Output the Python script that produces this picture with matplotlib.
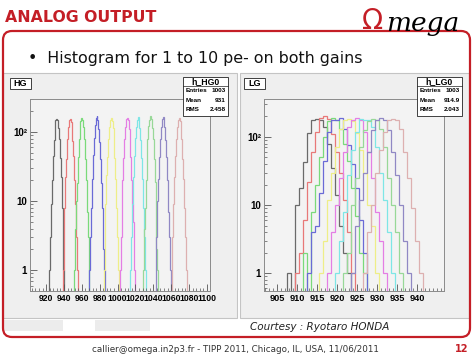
import matplotlib
matplotlib.use('Agg')
import matplotlib.pyplot as plt
from matplotlib.patches import Rectangle, FancyBboxPatch
from matplotlib.ticker import FixedLocator, MultipleLocator, LogLocator, NullFormatter
import numpy as np

plt.rcParams['font.family'] = ['DejaVu Sans']

# --- data (1-unit bins, first bin centre + counts) ---
hg_start = [924, 939, 952, 969, 985, 1003, 1015, 1029, 1043, 1061]
hg_counts = [
    [1, 3, 9, 20, 45, 76, 118, 148, 152, 147, 115, 80, 42, 22, 8, 3, 1],
    [1, 1, 8, 22, 40, 80, 120, 150, 155, 140, 118, 75, 45, 20, 9, 3, 1],
    [1, 4, 10, 18, 44, 80, 115, 145, 160, 150, 120, 78, 40, 20, 7, 3, 1],
    [1, 3, 8, 21, 46, 82, 125, 160, 172, 150, 110, 72, 40, 18, 8, 2, 1],
    [1, 2, 9, 24, 44, 78, 120, 150, 160, 145, 115, 80, 42, 21, 8, 3, 1],
    [1, 3, 10, 20, 42, 80, 118, 152, 158, 150, 112, 78, 44, 20, 9, 5, 1],
    [1, 3, 9, 22, 45, 82, 120, 148, 165, 145, 116, 76, 42, 21, 8, 3, 1],
    [1, 4, 8, 20, 46, 78, 122, 150, 168, 152, 114, 80, 40, 19, 8, 2, 1],
    [1, 3, 10, 21, 43, 80, 118, 155, 162, 148, 118, 77, 43, 20, 7, 3, 1],
    [1, 3, 9, 22, 45, 80, 120, 150, 158, 146, 115, 78, 41, 21, 8, 3, 1],
]
lg_start = [908, 910, 912, 913, 916, 918, 920, 922, 924, 927]
lg_counts = [
    [1, 0, 10, 18, 43, 114, 175, 185, 180, 140, 80, 35, 14, 5, 2, 1],
    [1, 2, 6, 22, 60, 120, 190, 200, 185, 110, 60, 30, 12, 4, 1],
    [2, 0, 8, 20, 50, 100, 170, 190, 180, 130, 80, 45, 18, 7, 2, 1],
    [1, 4, 5, 15, 45, 120, 175, 180, 190, 130, 75, 40, 18, 6, 2],
    [1, 3, 12, 30, 70, 130, 175, 185, 170, 115, 65, 30, 10, 5, 1],
    [1, 4, 10, 25, 60, 140, 180, 190, 175, 120, 60, 25, 8, 3, 1],
    [1, 3, 8, 28, 65, 120, 185, 175, 180, 140, 70, 30, 12, 4, 1],
    [1, 2, 10, 25, 70, 125, 170, 185, 180, 130, 70, 25, 10, 4, 1],
    [1, 5, 12, 30, 60, 125, 175, 190, 175, 125, 60, 28, 10, 3, 1],
    [1, 4, 10, 30, 65, 120, 180, 185, 180, 130, 60, 25, 9, 3, 1],
]
hist_colors = ['#6a6a6a', '#e87878', '#7ada7a', '#6a6ad6', '#eeee88',
               '#e47ee4', '#7ee6e6', '#98d898', '#9088c4', '#ddb0b0']
hg_xticks = [920, 940, 960, 980, 1000, 1020, 1040, 1060, 1080, 1100]
lg_xticks = [905, 910, 915, 920, 925, 930, 935, 940]
hg_stats = [('Entries', '1003'), ('Mean', '931'), ('RMS', '2.458')]
lg_stats = [('Entries', '1003'), ('Mean', '914.9'), ('RMS', '2.043')]

W, H = 474, 355
fig = plt.figure(figsize=(4.74, 3.55), dpi=100)
fig.patch.set_facecolor('white')

# background layer in pixel coordinates
bg = fig.add_axes([0, 0, 1, 1], zorder=0)
bg.set_xlim(0, W)
bg.set_ylim(H, 0)
bg.axis('off')

red = '#c41e26'
bg.add_patch(Rectangle((3.5, 73), 233.5, 245, fc='#efefef', ec='#c4c4c4', lw=0.8))
bg.add_patch(Rectangle((240, 73), 229, 245, fc='#efefef', ec='#c4c4c4', lw=0.8))
bg.add_patch(Rectangle((3.5, 320), 59.5, 11, fc='#ececec', ec='none'))
bg.add_patch(Rectangle((95, 320), 55, 11, fc='#ececec', ec='none'))
bg.add_patch(FancyBboxPatch((3, 31), 467, 306, boxstyle='round,pad=0,rounding_size=9',
                            fc='none', ec=red, lw=1.6))

bg.text(5, 17, 'ANALOG OUTPUT', color=red, fontsize=11.3, fontweight='bold',
        va='center', ha='left')
bg.text(28, 59, '\u2022  Histogram for 1 to 10 pe- on both gains', fontsize=11.4,
        va='center', ha='left', color='#111111')
bg.text(250, 327, 'Courtesy : Ryotaro HONDA', fontsize=7.5, style='italic',
        va='center', ha='left', color='#222222')
bg.text(235, 349, 'callier@omega.in2p3.fr - TIPP 2011, Chicago, IL, USA, 11/06/2011',
        fontsize=6.3, va='center', ha='center', color='#333333')
bg.text(462, 349, '12', fontsize=7, va='center', ha='center', color=red,
        fontweight='bold')

# logo
bg.text(373, 35, '\u03a9', fontsize=20, color=red, va='bottom', ha='center',
        family='DejaVu Sans')
bg.text(386, 24, 'mega', fontsize=19, color='black', va='center', ha='left',
        family='DejaVu Serif', style='italic')


def px_axes(x0, y0, x1, y1):
    return [x0 / W, 1 - y1 / H, (x1 - x0) / W, (y1 - y0) / H]


def draw_hist(rect, starts, counts, ylim, xlim, xticks, minor_step, xlabsize):
    ax = fig.add_axes(rect, zorder=2)
    ax.set_facecolor('#f3f3f3')
    for s, c, col in zip(starts, counts, hist_colors):
        v = np.array(c, dtype=float)
        v[v <= 0] = 0.05
        edges = np.arange(s - 0.5, s + len(c) + 0.5, 1.0)
        ax.stairs(v, edges, baseline=0.05, color=col, lw=0.9)
    ax.set_yscale('log')
    ax.set_ylim(*ylim)
    ax.set_xlim(*xlim)
    ax.yaxis.set_major_locator(FixedLocator([1, 10, 100]))
    ax.set_yticklabels(['1', '10', '10\u00b2'])
    ax.yaxis.set_minor_locator(LogLocator(base=10, subs=np.arange(2, 10)))
    ax.yaxis.set_minor_formatter(NullFormatter())
    ax.xaxis.set_major_locator(FixedLocator(xticks))
    ax.set_xticklabels([str(t) for t in xticks])
    ax.xaxis.set_minor_locator(MultipleLocator(minor_step))
    ax.tick_params(which='major', direction='in', length=5, width=0.6,
                   color='#555555', labelsize=7, pad=2)
    ax.tick_params(axis='x', which='major', labelsize=xlabsize)
    ax.tick_params(which='minor', direction='in', length=2.5, width=0.5,
                   color='#555555')
    for lab in ax.get_xticklabels() + ax.get_yticklabels():
        lab.set_family('Liberation Sans')
        lab.set_fontweight('bold')
    for sp in ax.spines.values():
        sp.set_color('#8a8a8a')
        sp.set_linewidth(0.7)
    return ax


draw_hist(px_axes(30, 99, 210, 291), hg_start, hg_counts, (0.5, 300),
          (902, 1103.5), hg_xticks, 4, 6.2)
draw_hist(px_axes(264, 99, 444, 291), lg_start, lg_counts, (0.55, 360),
          (901.75, 946.75), lg_xticks, 1, 6.6)

# foreground layer: labels and stat boxes
fg = fig.add_axes([0, 0, 1, 1], zorder=5)
fg.set_xlim(0, W)
fg.set_ylim(H, 0)
fg.axis('off')
fg.patch.set_alpha(0)


def stat_box(x0, name, rows):
    fg.add_patch(Rectangle((x0, 77), 45, 39, fc='white', ec='#222222', lw=0.6))
    fg.plot([x0, x0 + 45], [86, 86], color='#222222', lw=0.5)
    fg.text(x0 + 22.5, 81.5, name, fontsize=6.3, fontweight='bold', ha='center',
            va='center', family='Liberation Sans')
    for i, (k, v) in enumerate(rows):
        y = 91 + i * 9.3
        fg.text(x0 + 2.5, y, k, fontsize=4.6, fontweight='bold', ha='left',
                va='center', family='Liberation Sans')
        fg.text(x0 + 43, y, v, fontsize=4.6, fontweight='bold', ha='right',
                va='center', family='Liberation Sans')


def tag_box(x0, label):
    fg.add_patch(Rectangle((x0, 78), 21, 10.5, fc='white', ec='#222222', lw=0.6))
    fg.text(x0 + 10.5, 83.3, label, fontsize=6.5, fontweight='bold', ha='center',
            va='center', family='Liberation Sans')


tag_box(10, 'HG')
tag_box(244, 'LG')
stat_box(183, 'h_HG0', hg_stats)
stat_box(417, 'h_LG0', lg_stats)

fig.savefig('out.png', dpi=100)
